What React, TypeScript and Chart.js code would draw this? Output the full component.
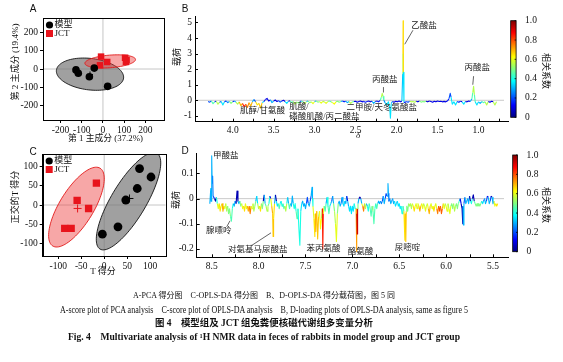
import React, { useEffect, useRef } from "react";
import { Chart, registerables } from "chart.js";
Chart.register(...registerables);

// ---------------- data ----------------
// A: PCA scores
const PCA_MODEL_X = [-127, -116, -64, -41, 22];
const PCA_MODEL_Y = [-5, -23, -42, 5, -94];
const PCA_JCT_X = [-14, -9, 20, 104, 108, 111];
const PCA_JCT_Y = [20, 67, 38, 61, 38, 49];
const PCA_CENTROID_X = [-61];
const PCA_CENTROID_Y = [-30];
const PCA_X_TICKS = [-200, -100, 0, 100, 200];
const PCA_Y_TICKS = [-200, -100, 0, 100, 200];
// ellipse params: [centerX, centerY, majorDx, majorDy, minorDx, minorDy]
const PCA_MODEL_ELLIPSE = [-61, -28, 158, -20, 6, 85];
const PCA_JCT_ELLIPSE = [34, 41, 119, 11, -3, 34];

// C: OPLS-DA scores
const OPLS_MODEL_X = [77, 102, 72, 47, 30, -4];
const OPLS_MODEL_Y = [95, 73, 43, 13, -57, -76];
const OPLS_JCT_X = [-17, -59, -34, -86, -72];
const OPLS_JCT_Y = [57, 12, -9, -61, -61];
const OPLS_CENTROID_MODEL = [55, 17];
const OPLS_CENTROID_JCT = [-58, -9];
const OPLS_X_TICKS = [-100, -50, 0, 50, 100];
const OPLS_Y_TICKS = [-100, -50, 0, 50, 100];
const OPLS_MODEL_ELLIPSE = [53, 10, 62, 125, 33, -23];
const OPLS_JCT_ELLIPSE = [-60.5, -5.5, 51.5, 101.5, 32, -23];

// B: loading plot 0.7-4.3 ppm  [shift, loading, correlation]
const B_SPECTRUM: number[][] = [
  [4.30, -0.08, 0.15], [4.28, -0.12, 0.2], [4.26, -0.05, 0.1], [4.24, -0.22, 0.45], [4.22, -0.1, 0.15],
  [4.20, -0.06, 0.1], [4.18, -0.25, 0.55], [4.16, -0.12, 0.2], [4.14, -0.08, 0.1], [4.12, -0.3, 0.35],
  [4.10, -0.1, 0.15], [4.08, -0.04, 0.05], [4.06, -0.15, 0.25], [4.04, -0.07, 0.1], [4.02, -0.2, 0.5],
  [4.00, -0.09, 0.15], [3.98, -0.05, 0.08], [3.96, -0.12, 0.3], [3.94, -0.25, 0.55], [3.92, -0.1, 0.2],
  [3.90, -0.35, 0.7], [3.88, -0.2, 0.75], [3.86, -0.42, 0.85], [3.84, -0.25, 0.8], [3.82, -0.45, 0.75],
  [3.80, -0.15, 0.6], [3.78, -0.38, 0.7], [3.76, -0.1, 0.3], [3.74, 0.05, 0.1], [3.72, -0.1, 0.2],
  [3.70, -0.3, 0.65], [3.68, -0.2, 0.6], [3.66, -0.5, 0.68], [3.64, -0.15, 0.35], [3.62, -0.08, 0.15],
  [3.60, 0.05, 0.05], [3.58, 0.12, 0.1], [3.56, -0.05, 0.1], [3.54, 0.03, 0.05], [3.52, -0.15, 0.3],
  [3.50, -0.05, 0.1], [3.48, 0.02, 0.05], [3.46, -0.08, 0.1], [3.44, -0.02, 0.05], [3.42, -0.12, 0.2],
  [3.40, -0.05, 0.1], [3.38, 0.0, 0.05], [3.36, -0.08, 0.1], [3.34, -0.2, 0.35], [3.32, -0.06, 0.1],
  [3.30, -0.03, 0.05], [3.28, -0.15, 0.45], [3.26, -0.08, 0.3], [3.24, -0.25, 0.55], [3.22, -0.1, 0.4],
  [3.20, -0.18, 0.5], [3.18, -0.08, 0.2], [3.16, -0.05, 0.1], [3.14, -0.12, 0.45], [3.12, -0.2, 0.55],
  [3.10, -0.08, 0.3], [3.08, -0.05, 0.15], [3.06, -0.15, 0.5], [3.04, -0.1, 0.45], [3.02, -0.22, 0.6],
  [3.00, -0.08, 0.3], [2.98, -0.05, 0.15], [2.96, -0.12, 0.5], [2.94, -0.08, 0.55], [2.92, -0.18, 0.6],
  [2.90, -0.07, 0.45], [2.88, -0.1, 0.55], [2.86, -0.2, 0.6], [2.84, -0.08, 0.5], [2.82, -0.05, 0.2],
  [2.80, -0.1, 0.45], [2.78, -0.15, 0.55], [2.76, -0.25, 0.62], [2.74, -0.1, 0.5], [2.72, -0.06, 0.2],
  [2.70, -0.12, 0.5], [2.68, -0.08, 0.3], [2.66, -0.05, 0.1], [2.64, -0.1, 0.15], [2.62, -0.06, 0.1],
  [2.60, -0.15, 0.3], [2.58, -0.08, 0.1], [2.56, -0.2, 0.55], [2.54, -0.1, 0.45], [2.52, -0.08, 0.1],
  [2.50, -0.06, 0.08], [2.48, -0.12, 0.1], [2.46, -0.08, 0.1], [2.44, -0.05, 0.05], [2.42, -0.1, 0.1],
  [2.40, -0.07, 0.08], [2.38, -0.12, 0.15], [2.36, -0.08, 0.1], [2.34, -0.05, 0.05], [2.32, -0.1, 0.1],
  [2.30, -0.06, 0.08], [2.28, -0.2, 0.3], [2.26, -0.08, 0.1], [2.24, -0.05, 0.05], [2.22, -0.1, 0.15],
  [2.20, 0.0, 0.3], [2.185, 0.2, 0.45], [2.175, 0.45, 0.55], [2.165, 0.25, 0.45], [2.155, 0.0, 0.3],
  [2.14, -0.15, 0.25], [2.12, -0.3, 0.35], [2.10, -0.1, 0.2], [2.085, -0.4, 0.35], [2.075, -1.15, 0.35],
  [2.065, -0.2, 0.3], [2.05, -0.08, 0.15], [2.03, -0.12, 0.1], [2.01, -0.06, 0.05], [1.99, -0.1, 0.1],
  [1.97, -0.05, 0.08], [1.95, -0.1, 0.1], [1.935, -0.05, 0.2], [1.925, 1.7, 0.32], [1.922, 3.0, 0.55],
  [1.92, 5.1, 0.66], [1.917, 1.8, 0.35], [1.91, -0.1, 0.25], [1.90, -0.15, 0.15], [1.88, -0.08, 0.1],
  [1.86, -0.12, 0.2], [1.84, -0.06, 0.1], [1.82, -0.1, 0.55], [1.80, -0.08, 0.5], [1.78, -0.12, 0.55],
  [1.76, -0.06, 0.15], [1.74, -0.1, 0.1], [1.72, -0.05, 0.1], [1.70, -0.12, 0.5], [1.68, -0.08, 0.55],
  [1.66, -0.1, 0.5], [1.64, -0.06, 0.1], [1.62, -0.1, 0.08], [1.60, -0.05, 0.05], [1.58, -0.08, 0.1],
  [1.56, -0.12, 0.1], [1.54, -0.06, 0.05], [1.52, -0.1, 0.1], [1.50, -0.05, 0.05], [1.48, -0.08, 0.1],
  [1.46, -0.06, 0.08], [1.44, -0.1, 0.1], [1.42, -0.07, 0.05], [1.40, -0.1, 0.1], [1.38, -0.05, 0.1],
  [1.36, 0.1, 0.15], [1.345, 0.45, 0.2], [1.335, 0.2, 0.2], [1.32, -0.25, 0.35], [1.30, -0.1, 0.15],
  [1.28, -0.3, 0.35], [1.26, -0.08, 0.1], [1.24, -0.12, 0.15], [1.22, -0.06, 0.1], [1.20, -0.1, 0.1],
  [1.18, -0.25, 0.35], [1.16, -0.08, 0.1], [1.14, -0.1, 0.1], [1.12, -0.05, 0.05], [1.10, -0.08, 0.1],
  [1.08, 0.1, 0.3], [1.07, 0.5, 0.45], [1.06, 0.9, 0.55], [1.05, 0.35, 0.45], [1.04, -0.1, 0.3],
  [1.02, -0.3, 0.35], [1.00, -0.1, 0.15], [0.98, -0.2, 0.3], [0.96, -0.08, 0.1], [0.94, -0.15, 0.45],
  [0.92, -0.1, 0.35], [0.90, -0.3, 0.55], [0.88, -0.08, 0.15], [0.86, -0.12, 0.1], [0.84, -0.06, 0.05],
  [0.82, -0.1, 0.1], [0.80, -0.3, 0.55], [0.78, -0.1, 0.2],
];
const B_X_TICKS = [4.25, 4.0, 3.75, 3.5, 3.25, 3.0, 2.75, 2.5, 2.25, 2.0, 1.75, 1.5, 1.25, 1.0, 0.75];
const B_Y_TICKS = [-1, 0, 1, 2, 3, 4, 5];
const B_LABELS = [
  { text: "肌醇/甘氨酸", x: 3.91, y: -0.67 },
  { text: "肌酸/", x: 3.31, y: -0.43 },
  { text: "磷酸肌酸/丙二酸盐", x: 3.31, y: -1.07 },
  { text: "二甲胺/天冬氨酸盐", x: 2.61, y: -0.49 },
  { text: "丙酸盐", x: 2.3, y: 1.3, line: [2.16, 0.85, 2.16, 0.5] },
  { text: "乙酸盐", x: 1.82, y: 4.77, line: [1.8, 4.5, 1.9, 3.6] },
  { text: "丙酸盐", x: 1.17, y: 2.08, line: [1.06, 1.55, 1.07, 1.0] },
];

// D: loading plot 5.4-8.6 ppm  [shift, loading, correlation]
const D_SPECTRUM: number[][] = [
  [8.52, -0.02, 0.3], [8.51, 0.04, 0.3], [8.505, -0.01, 0.25], [8.5, 0.17, 0.3], [8.495, 0.06, 0.3],
  [8.49, 0.09, 0.25], [8.485, 0.01, 0.2], [8.47, 0.0, 0.1], [8.46, -0.01, 0.05], [8.45, 0.005, 0.05],
  [8.44, -0.02, 0.4], [8.43, -0.04, 0.6], [8.42, -0.02, 0.55], [8.41, -0.05, 0.65], [8.40, -0.03, 0.6],
  [8.39, -0.02, 0.5], [8.38, -0.05, 0.7], [8.37, -0.03, 0.55], [8.36, -0.04, 0.6], [8.35, -0.02, 0.5],
  [8.34, -0.05, 0.55], [8.33, -0.03, 0.45], [8.32, -0.06, 0.5], [8.31, -0.04, 0.45], [8.30, -0.07, 0.5],
  [8.29, -0.09, 0.45], [8.28, -0.04, 0.4], [8.27, -0.02, 0.35], [8.26, -0.03, 0.3], [8.25, -0.01, 0.2],
  [8.24, -0.02, 0.25], [8.23, 0.03, 0.05], [8.22, -0.01, 0.1], [8.21, -0.02, 0.3], [8.20, -0.01, 0.25],
  [8.19, -0.03, 0.5], [8.18, -0.02, 0.55], [8.17, -0.04, 0.6], [8.16, -0.03, 0.55], [8.15, -0.05, 0.65],
  [8.14, -0.02, 0.6], [8.13, -0.04, 0.6], [8.12, -0.03, 0.55], [8.11, -0.05, 0.7], [8.10, -0.03, 0.65],
  [8.09, -0.06, 0.75], [8.08, -0.03, 0.7], [8.07, -0.04, 0.6], [8.06, -0.02, 0.45], [8.05, -0.05, 0.55],
  [8.04, -0.03, 0.5], [8.03, -0.01, 0.3], [8.02, 0.01, 0.1], [8.01, -0.02, 0.35], [8.00, -0.04, 0.55],
  [7.99, -0.03, 0.6], [7.98, -0.05, 0.65], [7.97, -0.02, 0.45], [7.96, -0.04, 0.5], [7.95, -0.01, 0.2],
  [7.94, 0.015, 0.05], [7.93, -0.02, 0.3], [7.92, -0.03, 0.45], [7.91, -0.05, 0.55], [7.90, -0.03, 0.5],
  [7.89, -0.02, 0.4], [7.88, 0.01, 0.1], [7.87, 0.0, 0.1], [7.86, -0.03, 0.6], [7.85, -0.06, 0.7],
  [7.845, -0.15, 0.68], [7.84, -0.08, 0.65], [7.83, -0.02, 0.3], [7.82, 0.015, 0.05], [7.81, -0.01, 0.1],
  [7.80, -0.03, 0.35], [7.79, -0.02, 0.4], [7.78, -0.04, 0.45], [7.77, -0.02, 0.35], [7.76, -0.01, 0.3],
  [7.75, -0.03, 0.4], [7.74, -0.02, 0.35], [7.73, -0.04, 0.45], [7.72, -0.03, 0.5], [7.71, -0.05, 0.55],
  [7.70, -0.02, 0.4], [7.69, 0.005, 0.1], [7.68, -0.02, 0.3], [7.67, -0.04, 0.45], [7.66, -0.02, 0.35],
  [7.65, -0.03, 0.3], [7.64, 0.01, 0.1], [7.63, -0.02, 0.3], [7.62, -0.04, 0.4], [7.61, -0.02, 0.35],
  [7.60, -0.05, 0.4], [7.59, -0.08, 0.45], [7.58, -0.04, 0.4], [7.57, -0.12, 0.4], [7.56, -0.185, 0.4],
  [7.55, -0.05, 0.35], [7.54, -0.02, 0.3], [7.53, -0.01, 0.2], [7.52, -0.03, 0.3], [7.51, -0.02, 0.25],
  [7.50, -0.04, 0.3], [7.49, -0.02, 0.2], [7.48, 0.005, 0.1], [7.47, -0.02, 0.2], [7.46, -0.03, 0.3],
  [7.45, -0.01, 0.2], [7.44, 0.01, 0.15], [7.43, 0.045, 0.3], [7.425, 0.0, 0.2], [7.42, -0.03, 0.4],
  [7.41, -0.08, 0.6], [7.40, -0.15, 0.65], [7.395, -0.06, 0.6], [7.39, -0.13, 0.7], [7.38, -0.05, 0.55],
  [7.37, -0.16, 0.68], [7.36, -0.07, 0.55], [7.35, -0.05, 0.45], [7.34, -0.12, 0.62], [7.33, -0.08, 0.55],
  [7.32, -0.04, 0.45], [7.315, -0.2, 0.85], [7.31, -0.06, 0.6], [7.30, -0.03, 0.4], [7.29, -0.05, 0.45],
  [7.28, -0.02, 0.3], [7.27, 0.005, 0.1], [7.26, -0.03, 0.4], [7.25, -0.06, 0.45], [7.24, -0.03, 0.35],
  [7.23, -0.02, 0.3], [7.22, -0.01, 0.2], [7.21, 0.01, 0.1], [7.20, -0.02, 0.3], [7.19, -0.05, 0.5],
  [7.18, -0.1, 0.55], [7.17, -0.17, 0.6], [7.16, -0.06, 0.5], [7.15, -0.02, 0.3], [7.14, -0.01, 0.25],
  [7.13, -0.03, 0.3], [7.12, -0.02, 0.25], [7.11, 0.005, 0.1], [7.10, -0.02, 0.3], [7.09, -0.03, 0.35],
  [7.08, -0.01, 0.25], [7.07, -0.02, 0.3], [7.06, 0.01, 0.1], [7.05, -0.01, 0.2], [7.04, -0.03, 0.3],
  [7.03, -0.05, 0.35], [7.02, -0.03, 0.3], [7.01, -0.06, 0.35], [7.00, -0.03, 0.3], [6.99, -0.05, 0.35],
  [6.98, -0.02, 0.3], [6.97, -0.04, 0.4], [6.96, -0.04, 0.45], [6.955, -0.21, 0.72], [6.952, -0.06, 0.6],
  [6.948, -0.14, 0.92], [6.944, -0.04, 0.5], [6.94, -0.02, 0.3], [6.93, 0.0, 0.1], [6.92, 0.006, 0.05],
  [6.91, 0.0, 0.05], [6.90, -0.02, 0.3], [6.89, -0.03, 0.6], [6.88, -0.05, 0.75], [6.87, -0.02, 0.5],
  [6.86, -0.04, 0.55], [6.85, -0.02, 0.45], [6.84, -0.03, 0.3], [6.83, -0.05, 0.4], [6.82, -0.02, 0.3],
  [6.81, -0.04, 0.45], [6.80, -0.07, 0.45], [6.79, -0.03, 0.4], [6.78, -0.05, 0.5], [6.77, -0.1, 0.45],
  [6.76, -0.04, 0.4], [6.75, -0.02, 0.3], [6.74, -0.04, 0.45], [6.73, -0.02, 0.3], [6.72, -0.01, 0.2],
  [6.71, -0.02, 0.3], [6.70, -0.01, 0.15], [6.69, -0.02, 0.25], [6.68, -0.01, 0.2], [6.67, 0.01, 0.1],
  [6.66, -0.02, 0.3], [6.65, 0.0, 0.15], [6.64, 0.02, 0.2], [6.63, 0.01, 0.25], [6.62, 0.06, 0.3],
  [6.615, 0.02, 0.25], [6.61, -0.01, 0.2], [6.60, 0.0, 0.1], [6.59, -0.02, 0.3], [6.58, -0.01, 0.25],
  [6.57, 0.0, 0.1], [6.56, -0.02, 0.3], [6.55, -0.01, 0.25], [6.54, -0.03, 0.35], [6.53, -0.02, 0.3],
  [6.52, -0.01, 0.2], [6.51, -0.03, 0.35], [6.50, -0.02, 0.3], [6.49, -0.04, 0.35], [6.48, -0.03, 0.3],
  [6.47, -0.06, 0.4], [6.46, -0.03, 0.35], [6.45, -0.05, 0.45], [6.44, -0.165, 0.65], [6.435, -0.06, 0.55],
  [6.43, -0.17, 0.68], [6.425, -0.05, 0.5], [6.42, -0.03, 0.45], [6.41, -0.05, 0.5], [6.40, -0.02, 0.3],
  [6.39, -0.03, 0.55], [6.38, -0.02, 0.6], [6.37, -0.04, 0.55], [6.36, -0.02, 0.5], [6.35, -0.03, 0.6],
  [6.34, -0.05, 0.65], [6.33, -0.03, 0.6], [6.32, -0.02, 0.55], [6.31, -0.04, 0.6], [6.30, -0.02, 0.55],
  [6.29, -0.03, 0.6], [6.28, -0.05, 0.7], [6.27, -0.03, 0.65], [6.26, -0.02, 0.55], [6.25, -0.04, 0.6],
  [6.24, -0.02, 0.5], [6.23, -0.03, 0.55], [6.22, -0.05, 0.6], [6.21, -0.03, 0.55], [6.20, -0.02, 0.5],
  [6.19, -0.04, 0.6], [6.18, -0.06, 0.7], [6.17, -0.03, 0.6], [6.16, -0.02, 0.55], [6.15, -0.04, 0.6],
  [6.14, -0.03, 0.55], [6.13, -0.05, 0.65], [6.12, -0.03, 0.6], [6.11, -0.02, 0.5], [6.10, -0.04, 0.6],
  [6.09, -0.06, 0.75], [6.08, -0.03, 0.7], [6.07, -0.05, 0.8], [6.06, -0.03, 0.7], [6.05, -0.06, 0.78],
  [6.04, -0.04, 0.7], [6.03, -0.02, 0.55], [6.02, -0.04, 0.6], [6.01, -0.02, 0.5], [6.00, -0.03, 0.55],
  [5.99, -0.05, 0.6], [5.98, -0.02, 0.5], [5.97, -0.04, 0.55], [5.96, -0.06, 0.6], [5.95, -0.03, 0.5],
  [5.94, -0.02, 0.45], [5.93, -0.04, 0.5], [5.92, -0.02, 0.45], [5.91, -0.05, 0.55], [5.90, -0.03, 0.5],
  [5.89, -0.02, 0.45], [5.88, -0.04, 0.5], [5.87, -0.02, 0.45], [5.86, -0.01, 0.3], [5.85, 0.0, 0.15],
  [5.84, -0.02, 0.1], [5.83, -0.04, 0.05], [5.825, -0.1, 0.05], [5.82, -0.03, 0.05], [5.815, -0.105, 0.3],
  [5.81, -0.02, 0.2], [5.80, 0.005, 0.1], [5.79, -0.02, 0.3], [5.78, -0.01, 0.25], [5.77, 0.0, 0.1],
  [5.76, -0.02, 0.3], [5.75, 0.01, 0.05], [5.74, -0.01, 0.2], [5.73, -0.02, 0.4], [5.72, 0.0, 0.1],
  [5.71, 0.015, 0.05], [5.70, -0.01, 0.1], [5.69, -0.02, 0.45], [5.68, -0.03, 0.5], [5.67, -0.02, 0.45],
  [5.66, -0.03, 0.5], [5.65, -0.02, 0.45], [5.64, -0.03, 0.5], [5.63, -0.02, 0.45], [5.62, -0.01, 0.3],
  [5.61, -0.02, 0.35], [5.60, -0.01, 0.2], [5.59, 0.0, 0.1], [5.58, -0.02, 0.3], [5.57, -0.01, 0.2],
  [5.56, 0.01, 0.1], [5.55, 0.005, 0.1], [5.54, -0.02, 0.3], [5.53, -0.01, 0.2], [5.52, 0.01, 0.05],
  [5.51, 0.005, 0.05], [5.50, -0.02, 0.3], [5.49, -0.01, 0.2], [5.48, -0.03, 0.6], [5.47, -0.02, 0.5],
  [5.46, -0.03, 0.65], [5.45, -0.02, 0.6],
];
const D_X_TICKS = [8.5, 8.25, 8.0, 7.75, 7.5, 7.25, 7.0, 6.75, 6.5, 6.25, 6.0, 5.75, 5.5];
const D_Y_TICKS = [-0.2, -0.1, 0, 0.1];
const D_LABELS = [
  { text: "甲酸盐", x: 8.486, y: 0.171 },
  { text: "腺嘌呤", x: 8.56, y: -0.128, line: [8.305, -0.088, 8.34, -0.112] },
  { text: "对氨基马尿酸盐", x: 8.326, y: -0.202, line: [7.868, -0.136, 8.074, -0.186] },
  { text: "苯丙氨酸", x: 7.488, y: -0.198 },
  { text: "酪氨酸", x: 7.048, y: -0.211 },
  { text: "尿嘧啶", x: 6.548, y: -0.195 },
];
const COLORBAR_TICKS = [0, 0.2, 0.4, 0.6, 0.8, 1.0];

// ---------------- styling helpers ----------------
const SERIF = '"Liberation Serif", "Times New Roman", serif';
const CJK = '"Liberation Serif", "Noto Sans CJK SC", serif';
const RED = "#e8141c";
const SP = "\u00a0";

function jet(t: number) {
  const c = (v: number) => Math.max(0, Math.min(1, v));
  const r = c(1.5 - Math.abs(4 * t - 3));
  const g = c(1.5 - Math.abs(4 * t - 2));
  const b = c(1.5 - Math.abs(4 * t - 1));
  return `rgb(${Math.round(r * 255)},${Math.round(g * 255)},${Math.round(b * 255)})`;
}

function drawEllipse(chart: any, e: number[], fill: string, stroke: string) {
  const { ctx, scales } = chart;
  const x = scales.x, y = scales.y;
  ctx.beginPath();
  for (let i = 0; i <= 96; i++) {
    const t = (i / 96) * Math.PI * 2;
    const vx = e[0] + e[2] * Math.cos(t) + e[4] * Math.sin(t);
    const vy = e[1] + e[3] * Math.cos(t) + e[5] * Math.sin(t);
    const px = x.getPixelForValue(vx), py = y.getPixelForValue(vy);
    if (i === 0) ctx.moveTo(px, py); else ctx.lineTo(px, py);
  }
  ctx.closePath();
  ctx.fillStyle = fill;
  ctx.fill();
  ctx.lineWidth = 0.9;
  ctx.strokeStyle = stroke;
  ctx.stroke();
}

function scorePlugin(ellipses: { e: number[]; fill: string; stroke: string }[]) {
  return {
    id: "scoreDeco",
    beforeDatasetsDraw(chart: any) {
      const { ctx, chartArea: a, scales } = chart;
      ctx.save();
      ctx.beginPath();
      ctx.rect(a.left, a.top, a.right - a.left, a.bottom - a.top);
      ctx.clip();
      ctx.strokeStyle = "#b8b8b8";
      ctx.lineWidth = 0.8;
      const x0 = scales.x.getPixelForValue(0), y0 = scales.y.getPixelForValue(0);
      ctx.beginPath();
      ctx.moveTo(x0, a.top); ctx.lineTo(x0, a.bottom);
      ctx.moveTo(a.left, y0); ctx.lineTo(a.right, y0);
      ctx.stroke();
      ellipses.forEach((el) => drawEllipse(chart, el.e, el.fill, el.stroke));
      ctx.restore();
    },
    afterDraw(chart: any) {
      const { ctx, chartArea: a } = chart;
      ctx.save();
      ctx.strokeStyle = "#000";
      ctx.lineWidth = 1;
      ctx.strokeRect(Math.round(a.left) + 0.5, Math.round(a.top) + 0.5, Math.round(a.right - a.left), Math.round(a.bottom - a.top));
      // legend
      const lx = a.left + 6.5, ly = a.top + 7;
      ctx.fillStyle = "#000";
      ctx.beginPath();
      ctx.arc(lx, ly, 3.6, 0, Math.PI * 2);
      ctx.fill();
      ctx.fillStyle = RED;
      ctx.fillRect(lx - 3.5, ly + 8.5 - 3.5, 7, 7);
      ctx.fillStyle = "#111";
      ctx.font = `9px ${CJK}`;
      ctx.textBaseline = "middle";
      ctx.textAlign = "left";
      ctx.fillText("模型", lx + 5, ly);
      ctx.fillText("JCT", lx + 5, ly + 8.5);
      ctx.restore();
    },
  };
}

function spectrumPlugin(labels: any[], cb: { x: number; y: number; w: number; h: number }) {
  return {
    id: "specDeco",
    beforeDatasetsDraw(chart: any) {
      const { ctx, chartArea: a, scales } = chart;
      const y0 = scales.y.getPixelForValue(0);
      ctx.save();
      ctx.strokeStyle = "#bdbdbd";
      ctx.lineWidth = 0.8;
      ctx.beginPath();
      ctx.moveTo(a.left, y0);
      ctx.lineTo(a.right - 4, y0);
      ctx.stroke();
      ctx.restore();
    },
    afterDraw(chart: any) {
      const { ctx, chartArea: a, scales } = chart;
      const x = scales.x, y = scales.y;
      ctx.save();
      // inward tick marks
      ctx.strokeStyle = "#000";
      ctx.lineWidth = 1;
      ctx.beginPath();
      x.ticks.forEach((t: any) => {
        const p = Math.round(x.getPixelForValue(t.value)) + 0.5;
        ctx.moveTo(p, a.bottom); ctx.lineTo(p, a.bottom - 3);
      });
      y.ticks.forEach((t: any) => {
        const p = Math.round(y.getPixelForValue(t.value)) + 0.5;
        ctx.moveTo(a.left, p); ctx.lineTo(a.left + 3, p);
      });
      ctx.stroke();
      // colour bar
      const grad = ctx.createLinearGradient(0, cb.y, 0, cb.y + cb.h);
      for (let i = 0; i <= 32; i++) grad.addColorStop(i / 32, jet(1 - i / 32));
      ctx.fillStyle = grad;
      ctx.fillRect(cb.x, cb.y, cb.w, cb.h);
      ctx.strokeStyle = "#000";
      ctx.lineWidth = 0.8;
      ctx.strokeRect(cb.x, cb.y, cb.w, cb.h);
      ctx.font = `9.5px ${SERIF}`;
      ctx.fillStyle = "#111";
      ctx.textAlign = "left";
      ctx.textBaseline = "middle";
      COLORBAR_TICKS.forEach((v) => {
        const py = cb.y + cb.h - v * cb.h;
        ctx.beginPath();
        ctx.moveTo(cb.x + cb.w, py); ctx.lineTo(cb.x + cb.w - 1.5, py);
        ctx.stroke();
        ctx.fillText(v === 0 ? "0" : v.toFixed(1), cb.x + cb.w + 9, py);
      });
      // annotations
      ctx.font = `8.5px ${CJK}`;
      ctx.fillStyle = "#222";
      ctx.strokeStyle = "#222";
      ctx.lineWidth = 0.7;
      labels.forEach((l) => {
        ctx.fillText(l.text, x.getPixelForValue(l.x), y.getPixelForValue(l.y));
        if (l.line) {
          ctx.beginPath();
          ctx.moveTo(x.getPixelForValue(l.line[0]), y.getPixelForValue(l.line[1]));
          ctx.lineTo(x.getPixelForValue(l.line[2]), y.getPixelForValue(l.line[3]));
          ctx.stroke();
        }
      });
      ctx.restore();
    },
  };
}

function baseOptions(pad: any) {
  return {
    animation: false,
    responsive: false,
    devicePixelRatio: 1,
    events: [],
    layout: { padding: pad },
    plugins: { legend: { display: false }, tooltip: { enabled: false } },
  };
}

function scoreScale(min: number, max: number, ticks: number[], horizontal: boolean, size: number) {
  return {
    type: "linear",
    min,
    max,
    afterBuildTicks: (s: any) => { s.ticks = ticks.map((v) => ({ value: v })); },
    afterFit: (s: any) => { if (horizontal) s.height = size; else s.width = size; },
    ticks: { font: { family: SERIF, size: 9.5 }, color: "#111", padding: 2, maxRotation: 0, autoSkip: false, callback: (v: any) => String(v) },
    grid: { display: true, drawOnChartArea: false, drawTicks: true, tickLength: 3, color: "#000", lineWidth: 1 },
    border: { display: true, color: "#000", width: 1 },
  };
}

function specScale(min: number, max: number, ticks: number[], horizontal: boolean, size: number, fmt: (v: number) => string, reverse = false) {
  return {
    type: "linear",
    min,
    max,
    reverse,
    afterBuildTicks: (s: any) => { s.ticks = ticks.map((v) => ({ value: v })); },
    afterFit: (s: any) => { if (horizontal) s.height = size; else s.width = size; },
    ticks: { font: { family: SERIF, size: 9.5 }, color: "#111", padding: 3, maxRotation: 0, autoSkip: false, callback: (v: any) => fmt(Number(v)) },
    grid: { display: false, drawTicks: false },
    border: { display: true, color: "#000", width: 1 },
  };
}

function spectrumDataset(spec: number[][]) {
  return {
    data: spec.map((p) => ({ x: p[0], y: p[1] })),
    borderWidth: 1.1,
    pointRadius: 0,
    tension: 0,
    fill: false,
    borderColor: "#00f",
    borderJoinStyle: "round",
    segment: {
      borderColor: (c: any) => {
        const i0 = c.p0DataIndex, i1 = c.p1DataIndex;
        const k = Math.abs(spec[i0][1]) >= Math.abs(spec[i1][1]) ? i0 : i1;
        return jet(spec[k][2]);
      },
    },
  };
}

const halfStep = (v: number) => (Math.abs(v * 2 - Math.round(v * 2)) < 1e-6 ? v.toFixed(1) : "");

export default function App() {
  const refA = useRef<HTMLCanvasElement>(null);
  const refB = useRef<HTMLCanvasElement>(null);
  const refC = useRef<HTMLCanvasElement>(null);
  const refD = useRef<HTMLCanvasElement>(null);

  useEffect(() => {
    document.body.style.margin = "0";
    const charts: Chart[] = [];

    // A: PCA score plot
    charts.push(
      new Chart(refA.current as HTMLCanvasElement, {
        type: "scatter",
        data: {
          datasets: [
            { data: PCA_MODEL_X.map((x, i) => ({ x, y: PCA_MODEL_Y[i] })), pointStyle: "circle", pointRadius: 3.8, backgroundColor: "#000", borderColor: "#000", borderWidth: 0 },
            { data: PCA_JCT_X.map((x, i) => ({ x, y: PCA_JCT_Y[i] })), pointStyle: "rect", pointRadius: 4.6, backgroundColor: RED, borderColor: RED, borderWidth: 0 },
            { data: PCA_CENTROID_X.map((x, i) => ({ x, y: PCA_CENTROID_Y[i] })), pointStyle: "cross", pointRadius: 3, borderColor: "#000", borderWidth: 1 },
          ],
        } as any,
        options: {
          ...baseOptions({ left: 13, right: 11, top: 18, bottom: 4 }),
          scales: {
            x: scoreScale(-282, 287, PCA_X_TICKS, true, 16),
            y: scoreScale(-276, 276, PCA_Y_TICKS, false, 30),
          },
        } as any,
        plugins: [
          scorePlugin([
            { e: PCA_MODEL_ELLIPSE, fill: "rgba(120,120,120,0.7)", stroke: "#111" },
            { e: PCA_JCT_ELLIPSE, fill: "rgba(238,60,60,0.45)", stroke: "#e21a1a" },
          ]),
        ],
      })
    );

    // C: OPLS-DA score plot
    charts.push(
      new Chart(refC.current as HTMLCanvasElement, {
        type: "scatter",
        data: {
          datasets: [
            { data: OPLS_MODEL_X.map((x, i) => ({ x, y: OPLS_MODEL_Y[i] })), pointStyle: "circle", pointRadius: 4.4, backgroundColor: "#000", borderColor: "#000", borderWidth: 0 },
            { data: OPLS_JCT_X.map((x, i) => ({ x, y: OPLS_JCT_Y[i] })), pointStyle: "rect", pointRadius: 5.2, backgroundColor: RED, borderColor: RED, borderWidth: 0 },
            { data: [{ x: OPLS_CENTROID_MODEL[0], y: OPLS_CENTROID_MODEL[1] }], pointStyle: "cross", pointRadius: 4, borderColor: "#000", borderWidth: 1 },
            { data: [{ x: OPLS_CENTROID_JCT[0], y: OPLS_CENTROID_JCT[1] }], pointStyle: "cross", pointRadius: 4, borderColor: RED, borderWidth: 1 },
          ],
        } as any,
        options: {
          ...baseOptions({ left: 12.7, right: 9.3, top: 14, bottom: 8 }),
          scales: {
            x: scoreScale(-134, 134, OPLS_X_TICKS, true, 16),
            y: scoreScale(-133, 133, OPLS_Y_TICKS, false, 30),
          },
        } as any,
        plugins: [
          scorePlugin([
            { e: OPLS_MODEL_ELLIPSE, fill: "rgba(120,120,120,0.7)", stroke: "#111" },
            { e: OPLS_JCT_ELLIPSE, fill: "rgba(238,60,60,0.45)", stroke: "#e21a1a" },
          ]),
        ],
      })
    );

    // B: loading plot (aliphatic)
    charts.push(
      new Chart(refB.current as HTMLCanvasElement, {
        type: "line",
        data: { datasets: [spectrumDataset(B_SPECTRUM)] } as any,
        options: {
          ...baseOptions({ left: 7, right: 55, top: 16.7, bottom: 4.3 }),
          scales: {
            x: specScale(0.64, 4.46, B_X_TICKS, true, 14, halfStep, true),
            y: specScale(-1.375, 5.37, B_Y_TICKS, false, 18, (v) => String(v)),
          },
        } as any,
        plugins: [spectrumPlugin(B_LABELS, { x: 340.7, y: 20.7, w: 5.4, h: 96.6 })],
      })
    );

    // D: loading plot (aromatic)
    charts.push(
      new Chart(refD.current as HTMLCanvasElement, {
        type: "line",
        data: { datasets: [spectrumDataset(D_SPECTRUM)] } as any,
        options: {
          ...baseOptions({ left: 4.7, right: 55, top: 13.3, bottom: 8.7 }),
          scales: {
            x: specScale(5.34, 8.66, D_X_TICKS, true, 14, halfStep, true),
            y: specScale(-0.233, 0.18, D_Y_TICKS, false, 22, (v) => (Math.abs(v) < 1e-9 ? "0" : v.toFixed(1))),
          },
        } as any,
        plugins: [spectrumPlugin(D_LABELS, { x: 342.7, y: 15, w: 4.8, h: 96.7 })],
      })
    );

    return () => charts.forEach((c) => c.destroy());
  }, []);

  const abs = (l: number, t: number, w: number, h: number): React.CSSProperties => ({ position: "absolute", left: l, top: t, width: w, height: h });
  const gap = SP + SP + SP + SP;

  return (
    <div style={{ position: "absolute", left: 0, top: 0, width: 563, height: 362, background: "#fff", overflow: "hidden" }}>
      <canvas ref={refA} width={175} height={140} style={abs(0, 0, 175, 140)} />
      <canvas ref={refB} width={393} height={140} style={abs(170, 0, 393, 140)} />
      <canvas ref={refC} width={175} height={140} style={abs(0, 140, 175, 140)} />
      <canvas ref={refD} width={393} height={140} style={abs(170, 140, 393, 140)} />
      <svg width={563} height={362} style={{ position: "absolute", left: 0, top: 0, pointerEvents: "none" }}>
        <g fill="#111" fontFamily={CJK} dominantBaseline="central" textAnchor="middle">
          <text x={33} y={8} fontSize={10} fontFamily='"Liberation Sans", Arial, sans-serif'>A</text>
          <text x={185} y={8.5} fontSize={10} fontFamily='"Liberation Sans", Arial, sans-serif'>B</text>
          <text x={33} y={151.5} fontSize={10} fontFamily='"Liberation Sans", Arial, sans-serif'>C</text>
          <text x={185} y={150} fontSize={10} fontFamily='"Liberation Sans", Arial, sans-serif'>D</text>

          <text transform="translate(15,62) rotate(-90)" fontSize={9} textLength={77} lengthAdjust="spacingAndGlyphs">{`第${SP}2${SP}主成分${SP}(19.4%)`}</text>
          <text x={105.5} y={138} fontSize={9} textLength={75} lengthAdjust="spacingAndGlyphs">{`第${SP}1${SP}主成分${SP}(37.2%)`}</text>
          <text transform="translate(15,197) rotate(-90)" fontSize={9}>{`正交的T${SP}得分`}</text>
          <text x={103} y={271} fontSize={9}>{`T${SP}得分`}</text>

          <text transform="translate(177,57) rotate(-90)" fontSize={9}>载荷</text>
          <text transform="translate(176,200) rotate(-90)" fontSize={9}>载荷</text>
          <text x={358} y={135} fontSize={9} fontStyle="italic" fontFamily={SERIF}>δ</text>

          <text transform="translate(546,71) rotate(90)" fontSize={9}>相关系数</text>
          <text transform="translate(546,205) rotate(90)" fontSize={9}>相关系数</text>

          <text x={264} y={295} fontSize={8.5} textLength={262} lengthAdjust="spacingAndGlyphs">{`A-PCA 得分图${gap}C-OPLS-DA 得分图${gap}B、D-OPLS-DA 得分载荷图，图 5 同`}</text>
          <text x={264} y={309.5} fontSize={9.5} fontFamily={SERIF} textLength={408} lengthAdjust="spacingAndGlyphs">{`A-score plot of PCA analysis${gap}C-score plot of OPLS-DA analysis${gap}B, D-loading plots of OPLS-DA analysis, same as figure 5`}</text>
          <text x={264} y={323} fontSize={9.5} fontWeight="bold" textLength={218} lengthAdjust="spacingAndGlyphs">{`图 4${gap}模型组及 JCT 组兔粪便核磁代谢组多变量分析`}</text>
          <text x={264} y={337} fontSize={9.5} fontWeight="bold" fontFamily={SERIF} textLength={392} lengthAdjust="spacingAndGlyphs">{`Fig. 4${gap}Multivariate analysis of ¹H NMR data in feces of rabbits in model group and JCT group`}</text>
        </g>
      </svg>
    </div>
  );
}
